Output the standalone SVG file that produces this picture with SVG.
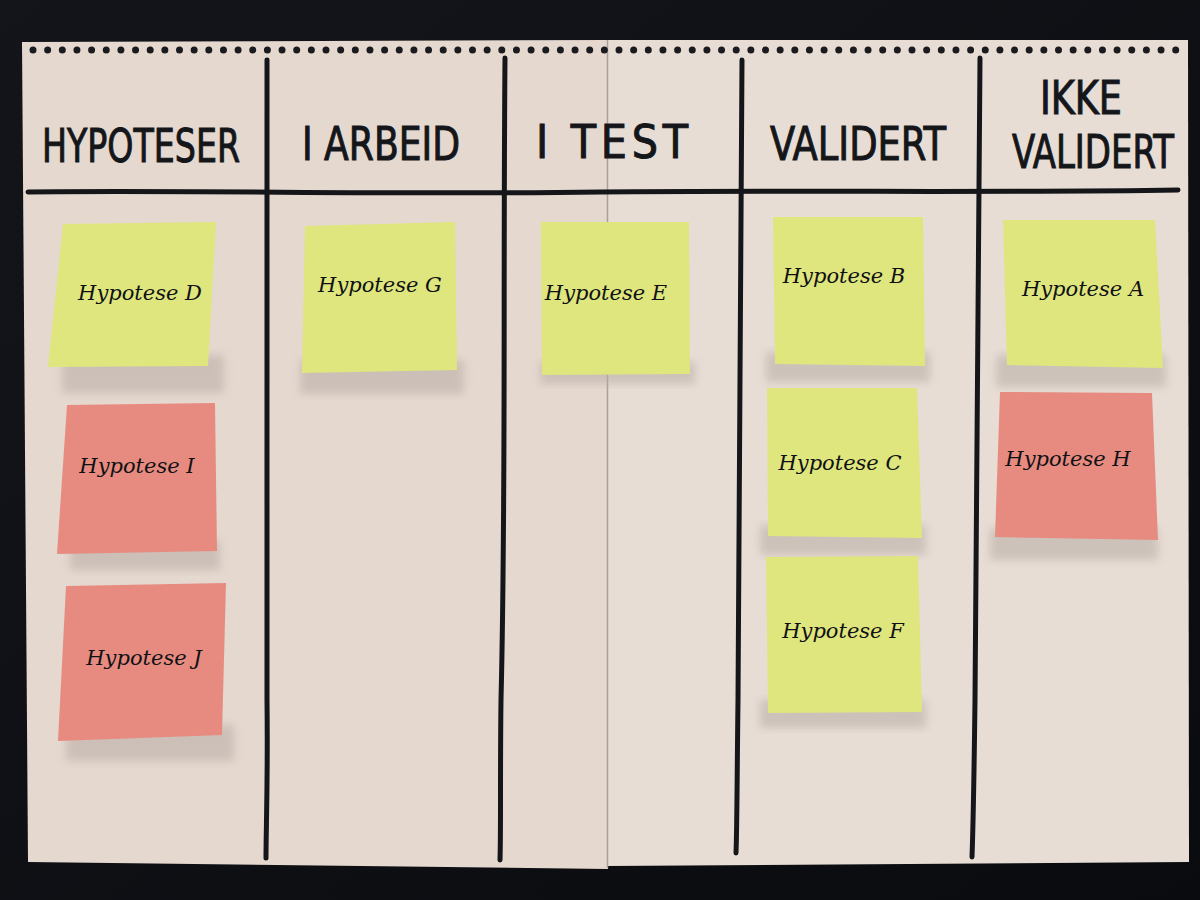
<svg xmlns="http://www.w3.org/2000/svg" width="1200" height="900" viewBox="0 0 1200 900">
<defs>
<filter id="blur" x="-20%" y="-20%" width="140%" height="140%"><feGaussianBlur stdDeviation="4"/></filter>
<linearGradient id="bg" x1="0" y1="0" x2="1" y2="1"><stop offset="0" stop-color="#13151a"/><stop offset="1" stop-color="#0a0b0f"/></linearGradient>
</defs>
<style>
.hdr{font-family:"Liberation Sans Narrow","DejaVu Sans Condensed","Liberation Sans",sans-serif;font-size:46px;fill:#15161a;stroke:#15161a;stroke-width:1px;}
.lbl{font-family:"DejaVu Serif","Liberation Serif",serif;font-style:italic;font-size:21px;fill:#101114;text-anchor:middle;}
.ink{fill:none;stroke:#15161a;stroke-width:5;stroke-linecap:round;stroke-linejoin:round;}
.yel{fill:#dfe67e;}
.pnk{fill:#e78b80;}
.shd{fill:#b9aca4;opacity:0.55;filter:url(#blur);}
</style>
<rect width="1200" height="900" fill="url(#bg)"/>
<!-- paper sheets -->
<polygon points="22,42 608,40 608,869 28,862" fill="#e5d8cf"/>
<polygon points="607,40 1188,40 1189,862 608,866" fill="#e7ddd5"/>
<line x1="607.5" y1="40" x2="607.5" y2="868" stroke="#a9a09a" stroke-width="1.5"/>
<!-- spiral holes -->
<path d="M33,50 H1176" fill="none" stroke="#1a1b1f" stroke-width="7" stroke-linecap="round" stroke-dasharray="0 14.65"/>
<!-- grid lines -->
<g id="connectors">
<path class="ink" d="M28,192 C200,190 400,195 600,192 C800,190 1000,193 1178,190"/>
<path class="ink" d="M267,60 C268,300 265,500 267,700 C268,780 266,830 266,858"/>
<path class="ink" d="M505,58 C503,300 506,500 501,700 C500,780 501,830 500,860"/>
<path class="ink" d="M742,60 C741,300 740,500 738,700 C737,780 737,830 736,853"/>
<path class="ink" d="M980,58 C979,300 977,500 975,700 C974,780 973,830 972,857"/>
</g>
<!-- headers -->
<g id="headers">
<text class="hdr" x="42" y="162" textLength="198" lengthAdjust="spacingAndGlyphs">HYPOTESER</text>
<text class="hdr" x="302" y="160" textLength="158" lengthAdjust="spacingAndGlyphs">I ARBEID</text>
<text class="hdr" x="536" y="158" textLength="152" lengthAdjust="spacing">I TEST</text>
<text class="hdr" x="770" y="160" textLength="176" lengthAdjust="spacingAndGlyphs">VALIDERT</text>
<text class="hdr" x="1040" y="114" textLength="82" lengthAdjust="spacingAndGlyphs">IKKE</text>
<text class="hdr" transform="translate(1012,168) scale(0.82,1)" x="0" y="0">VALIDERT</text>
</g>
<!-- sticky notes -->
<g id="note-D"><rect class="shd" x="62" y="355" width="162" height="38"/><polygon class="yel" points="63,224 216,222 208,366 48,367"/><text class="lbl" x="140" y="300">Hypotese D</text></g>
<g id="note-I"><rect class="shd" x="70" y="540" width="150" height="30"/><polygon class="pnk" points="67,405 215,403 217,551 57,554"/><text class="lbl" x="137" y="473">Hypotese I</text></g>
<g id="note-J"><rect class="shd" x="66" y="725" width="168" height="36"/><polygon class="pnk" points="66,586 226,583 222,735 58,741"/><text class="lbl" x="144" y="665">Hypotese J</text></g>
<g id="note-G"><rect class="shd" x="300" y="360" width="164" height="34"/><polygon class="yel" points="305,226 455,222 457,370 302,373"/><text class="lbl" x="380" y="292">Hypotese G</text></g>
<g id="note-E"><rect class="shd" x="540" y="362" width="155" height="22"/><polygon class="yel" points="541,222 689,222 690,374 542,375"/><text class="lbl" x="606" y="300">Hypotese E</text></g>
<g id="note-B"><rect class="shd" x="766" y="352" width="164" height="30"/><polygon class="yel" points="773,217 923,217 925,366 775,364"/><text class="lbl" x="844" y="283">Hypotese B</text></g>
<g id="note-C"><rect class="shd" x="760" y="525" width="166" height="30"/><polygon class="yel" points="767,388 917,388 922,538 768,536"/><text class="lbl" x="840" y="470">Hypotese C</text></g>
<g id="note-F"><rect class="shd" x="760" y="700" width="166" height="28"/><polygon class="yel" points="766,557 918,556 922,712 768,713"/><text class="lbl" x="843" y="638">Hypotese F</text></g>
<g id="note-A"><rect class="shd" x="996" y="355" width="170" height="32"/><polygon class="yel" points="1003,220 1155,220 1163,368 1007,365"/><text class="lbl" x="1083" y="296">Hypotese A</text></g>
<g id="note-H"><rect class="shd" x="990" y="528" width="168" height="32"/><polygon class="pnk" points="1000,392 1152,393 1158,540 995,537"/><text class="lbl" x="1068" y="466">Hypotese H</text></g>
</svg>
